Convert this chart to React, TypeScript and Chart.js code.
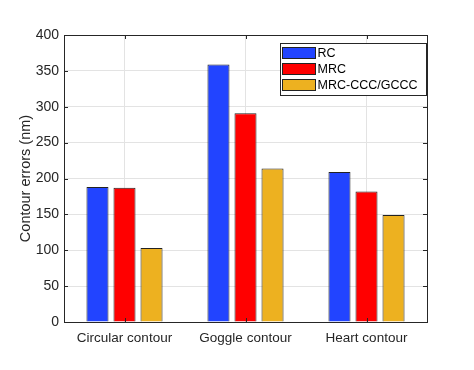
import React, { useEffect, useRef } from "react";
import { Chart, registerables } from "chart.js";

Chart.register(...registerables);

const categories = ["Circular contour", "Goggle contour", "Heart contour"];
const seriesNames = ["RC", "MRC", "MRC-CCC/GCCC"];
const rcValues = [188, 359, 209];
const mrcValues = [187, 291, 182];
const cccValues = [103, 214, 149];
const seriesColors = ["#2244ff", "#ff0000", "#edb120"];
const yTicks = [0, 50, 100, 150, 200, 250, 300, 350, 400];

const FONT = "'Liberation Sans', Arial, Helvetica, sans-serif";

const boxPlugin = {
  id: "boxPlugin",
  afterDraw(chart: any) {
    const { ctx, chartArea } = chart;
    const { left, right, top, bottom } = chartArea;
    ctx.save();
    ctx.strokeStyle = "#262626";
    ctx.lineWidth = 1;
    ctx.strokeRect(Math.round(left) + 0.5, Math.round(top) + 0.5, Math.round(right - left), Math.round(bottom - top));
    const y = chart.scales.y;
    const x = chart.scales.x;
    ctx.beginPath();
    yTicks.forEach((v) => {
      const py = Math.round(y.getPixelForValue(v)) + 0.5;
      ctx.moveTo(left, py);
      ctx.lineTo(left + 4, py);
      ctx.moveTo(right, py);
      ctx.lineTo(right - 4, py);
    });
    categories.forEach((_, i) => {
      const px = Math.round(x.getPixelForValue(i)) + 0.5;
      ctx.moveTo(px, bottom);
      ctx.lineTo(px, bottom - 4);
      ctx.moveTo(px, top);
      ctx.lineTo(px, top + 4);
    });
    ctx.stroke();

    // legend
    const lx = 280.5, ly = 43.5, lw = 146, lh = 52;
    ctx.fillStyle = "#ffffff";
    ctx.fillRect(lx, ly, lw, lh);
    ctx.strokeStyle = "#262626";
    ctx.strokeRect(lx, ly, lw, lh);
    ctx.font = `12.5px ${FONT}`;
    ctx.textBaseline = "middle";
    seriesNames.forEach((name, i) => {
      const rowY = ly + 4 + i * 16;
      ctx.fillStyle = seriesColors[i];
      ctx.fillRect(lx + 2, rowY, 33, 11);
      ctx.strokeStyle = "#222222";
      ctx.strokeRect(lx + 2, rowY, 33, 11);
      ctx.fillStyle = "#000000";
      ctx.fillText(name, lx + 37, rowY + 6);
    });
    ctx.restore();
  },
};

export default function App() {
  const ref = useRef<HTMLCanvasElement>(null);
  useEffect(() => {
    document.body.style.margin = "0";
    const data = [rcValues, mrcValues, cccValues];
    const chart = new Chart(ref.current!, {
      type: "bar",
      data: {
        labels: categories,
        datasets: seriesNames.map((name, i) => ({
          label: name,
          data: data[i],
          backgroundColor: seriesColors[i],
          borderColor: "#222222",
          borderWidth: 1,
          categoryPercentage: 0.67,
          barPercentage: 0.815,
        })),
      },
      options: {
        animation: false,
        responsive: false,
        devicePixelRatio: 1,
        layout: { padding: { left: 0, right: 47, top: 35, bottom: 0 } },
        plugins: { legend: { display: false }, tooltip: { enabled: false } },
        scales: {
          x: {
            offset: true,
            grid: { offset: false, color: "#e3e3e3", drawTicks: false },
            border: { display: false },
            ticks: { color: "#262626", font: { family: FONT, size: 13.5 }, padding: 8 },
            afterFit: (s: any) => { s.height = 48; },
          },
          y: {
            min: 0,
            max: 400,
            afterBuildTicks: (s: any) => { s.ticks = yTicks.map((v) => ({ value: v })); },
            grid: { color: "#e3e3e3", drawTicks: false },
            border: { display: false },
            ticks: { color: "#262626", font: { family: FONT, size: 14 }, padding: 5 },
            title: { display: true, text: "Contour errors (nm)", color: "#262626", font: { family: FONT, size: 14.5 }, padding: { top: 17, bottom: 0 } },
            afterFit: (s: any) => { s.width = 64; },
          },
        },
      },
      plugins: [boxPlugin],
    });
    return () => chart.destroy();
  }, []);
  return (
    <div style={{ width: 474, height: 370, background: "#fff" }}>
      <canvas ref={ref} width={474} height={370} style={{ display: "block" }} />
    </div>
  );
}
